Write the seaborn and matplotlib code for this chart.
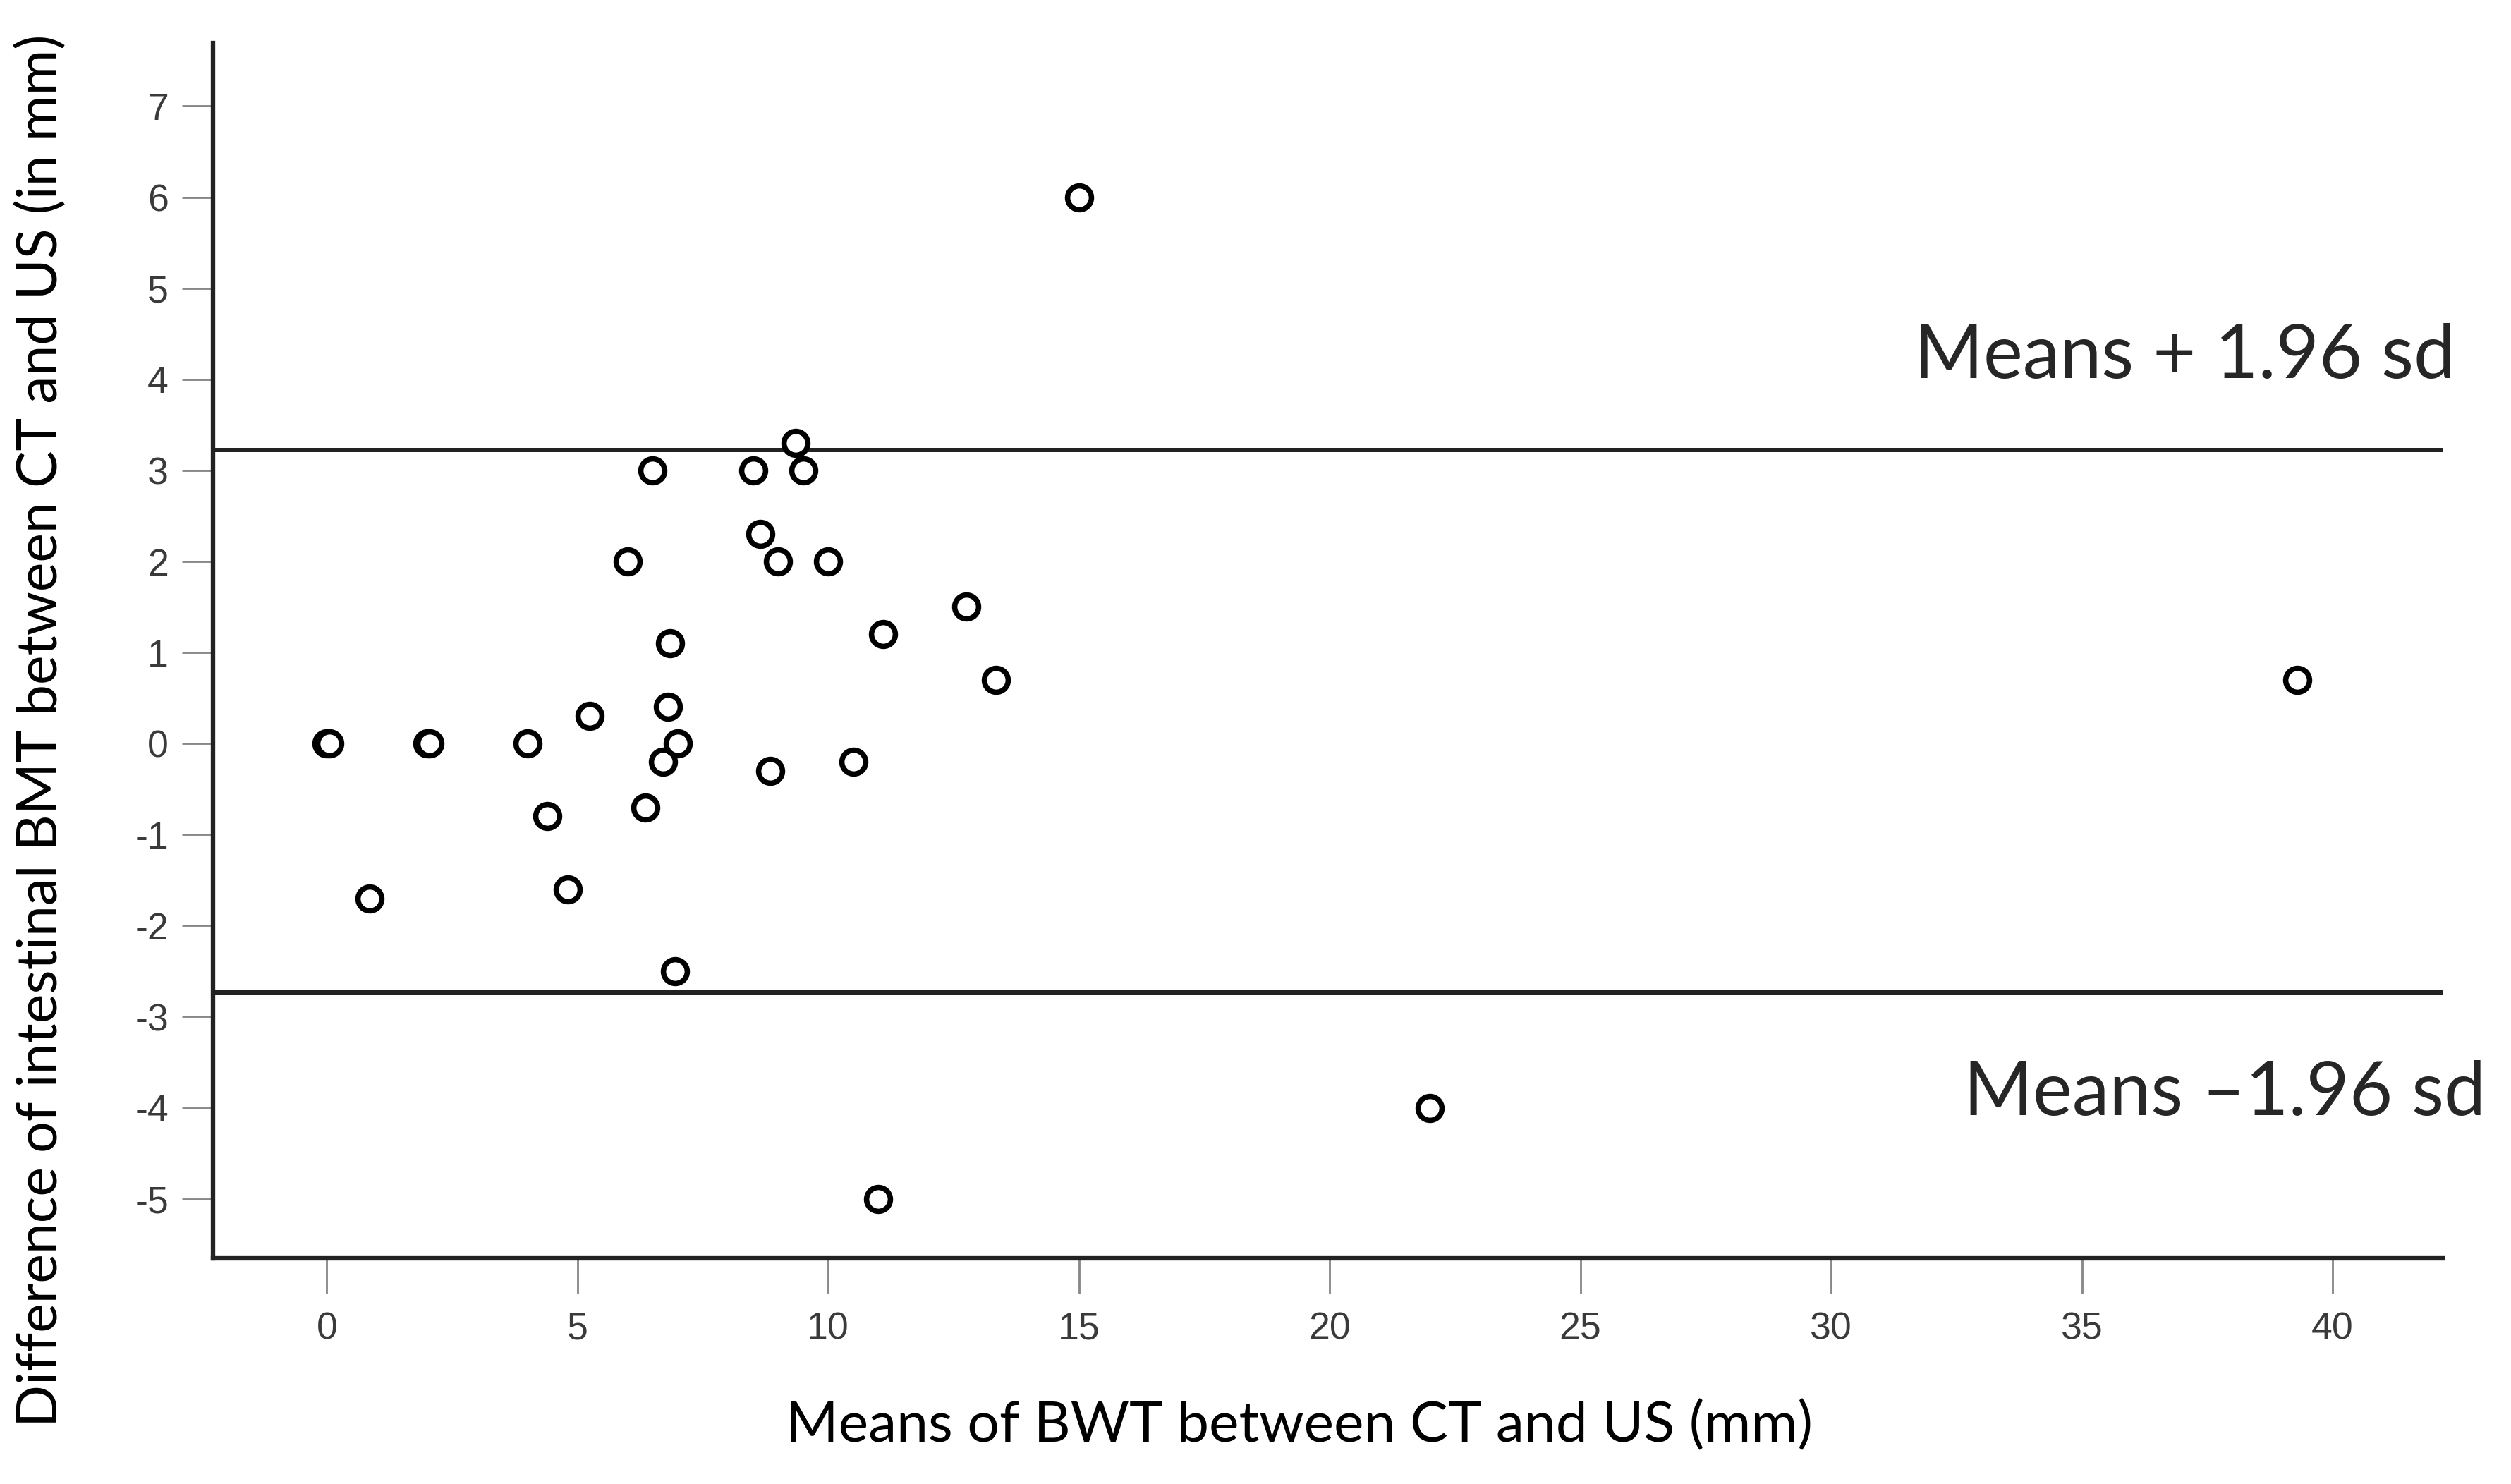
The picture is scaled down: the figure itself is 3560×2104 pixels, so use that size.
import numpy as np
import pandas as pd
import seaborn as sns
import matplotlib.pyplot as plt

# Bland-Altman points
mean_bwt = [0.0, 0.05, 2.0, 2.05, 0.86, 4.0, 4.4, 4.8, 5.24, 6.0, 6.35, 6.5, 6.7, 6.8,
            6.85, 6.95, 7.0, 8.5, 8.65, 8.85, 9.0, 9.35, 9.5, 10.0, 10.5, 11.0,
            11.1, 12.75, 13.35, 15.0, 22.0, 39.3]
diff_bmt = [0.0, 0.0, 0.0, 0.0, -1.7, 0.0, -0.8, -1.6, 0.3, 2.0, -0.7, 3.0, -0.2, 0.4,
            1.1, -2.5, 0.0, 3.0, 2.3, -0.3, 2.0, 3.3, 3.0, 2.0, -0.2, -5.0,
            1.2, 1.5, 0.7, 6.0, -4.0, 0.7]
upper_loa = 3.22
lower_loa = -2.73
xticks = [0, 5, 10, 15, 20, 25, 30, 35, 40]
yticks = [7, 6, 5, 4, 3, 2, 1, 0, -1, -2, -3, -4, -5]
ytick_labels = ['7', '6', '5', '4', '3', '2', '1', '0', '-1', '-2', '-3', '-4', '-5']

df = pd.DataFrame({'mean': mean_bwt, 'diff': diff_bmt})

sns.set_style('white')
plt.rcParams['font.family'] = ['Lato', 'DejaVu Sans']

fig = plt.figure(figsize=(15.68, 9.265), dpi=227.1)
ax = fig.add_axes([0.0848, 0.1523, 0.8878, 0.8185])

ax.axhline(upper_loa, color='#222222', lw=1.9, zorder=1)
ax.axhline(lower_loa, color='#222222', lw=1.9, zorder=1)

sns.scatterplot(data=df, x='mean', y='diff', ax=ax, marker='o', s=115,
                color='white', edgecolor='black', linewidth=2.4, zorder=3)

ax.set_xlim(-2.27, 42.2)
ax.set_ylim(-5.65, 7.69)
ax.set_xticks(xticks)
ax.set_xticklabels([str(t) for t in xticks])
ax.set_yticks(yticks)
ax.set_yticklabels(ytick_labels)
ax.tick_params(axis='x', direction='out', length=16, width=0.9, color='#888888', pad=8,
               bottom=True, labelsize=17, labelcolor='#3a3a3a')
ax.tick_params(axis='y', direction='out', length=14, width=0.9, color='#888888', pad=6,
               left=True, labelsize=17, labelcolor='#3a3a3a')
for lab in ax.get_xticklabels() + ax.get_yticklabels():
    lab.set_family(['Liberation Sans', 'DejaVu Sans'])

for side in ['top', 'right']:
    ax.spines[side].set_visible(False)
for side in ['left', 'bottom']:
    ax.spines[side].set_color('#222222')
    ax.spines[side].set_linewidth(2.0)

ax.set_xlabel('Means of BWT between CT and US (mm)', fontsize=25.5, color='black')
ax.xaxis.set_label_coords(0.487, -0.117)
ax.set_ylabel('Difference of intestinal BMT between CT and US (in mm)', fontsize=25,
              color='black')
ax.yaxis.set_label_coords(-0.0655, 0.434)

ax.text(42.45, 4.25, 'Means + 1.96 sd', fontsize=33.5, ha='right', va='center', clip_on=False)
ax.text(43.05, -3.85, 'Means \u20131.96 sd', fontsize=33.5, ha='right', va='center', clip_on=False)

plt.savefig('out.png', dpi=227.1)
plt.close()
